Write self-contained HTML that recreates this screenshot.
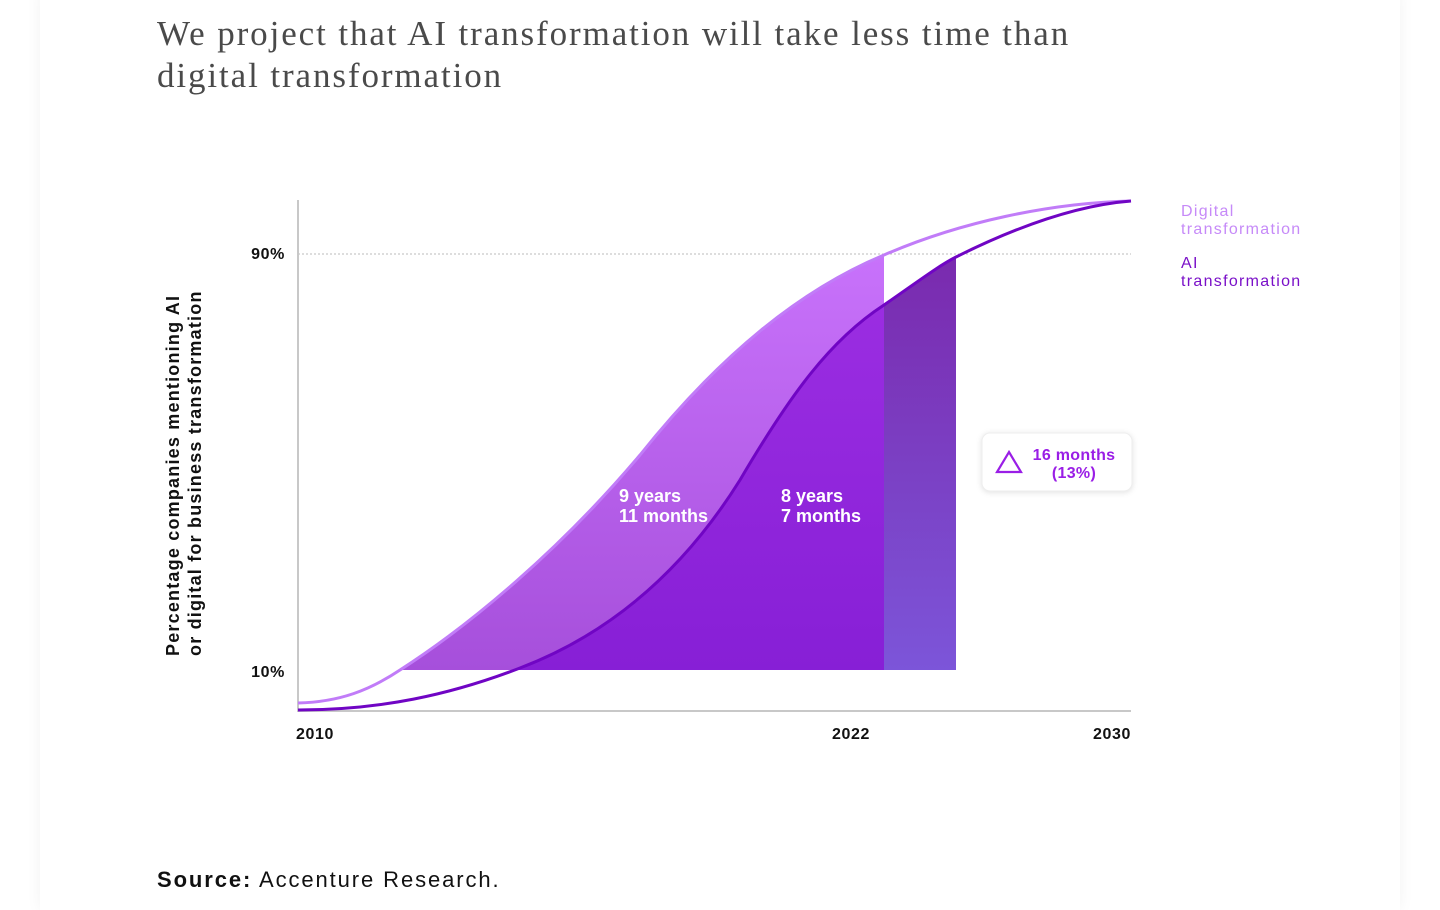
<!DOCTYPE html>
<html><head><meta charset="utf-8"><style>
html,body{margin:0;padding:0;background:#fff;width:1440px;height:900px;overflow:hidden}
.card{position:absolute;left:40px;top:-10px;width:1360px;height:920px;background:#fff;box-shadow:0 0 14px rgba(0,0,0,0.05)}
.title{position:absolute;left:157px;top:13px;font-family:"Liberation Serif",serif;font-size:35px;line-height:42px;color:#4a4a4a;letter-spacing:1.9px}
.src{position:absolute;left:157px;top:867px;font-family:"Liberation Sans",sans-serif;font-size:22px;color:#111;letter-spacing:1.9px}
svg{position:absolute;left:0;top:0}
</style></head><body>
<div class="card"></div>
<div class="title">We project that AI transformation will take less time than<br>digital transformation</div>
<svg width="1440" height="900" font-family="Liberation Sans, sans-serif">
<defs>
<linearGradient id="gd" x1="0" y1="0" x2="0" y2="1"><stop offset="0" stop-color="#c872fb"/><stop offset="1" stop-color="#a64fdb"/></linearGradient>
<linearGradient id="ga" x1="0" y1="0" x2="0" y2="1"><stop offset="0" stop-color="#9d2fe3"/><stop offset="1" stop-color="#871fd6"/></linearGradient>
<linearGradient id="gb" x1="0" y1="0" x2="0" y2="1"><stop offset="0" stop-color="#7a2aae"/><stop offset="1" stop-color="#7c55d9"/></linearGradient>
<clipPath id="cr"><rect x="884" y="200" width="80" height="480"/></clipPath>
</defs>
<line x1="298" y1="254" x2="1131" y2="254" stroke="#bbb" stroke-width="1" stroke-dasharray="2,2"/>
<path d="M400,670 C470,625 560,550 640,455 C720,355 800,290 884,255 L884,670 Z" fill="url(#gd)"/>
<path d="M515,670 C620,630 690,560 740,480 C790,395 830,340 884,305 C920,280 940,265 956,257 L956,670 Z" fill="url(#ga)"/>
<path d="M515,670 C620,630 690,560 740,480 C790,395 830,340 884,305 C920,280 940,265 956,257 L956,670 Z" fill="url(#gb)" clip-path="url(#cr)"/>
<line x1="298" y1="200" x2="298" y2="712" stroke="#c8c8c8" stroke-width="2"/>
<line x1="298" y1="711" x2="1131" y2="711" stroke="#c8c8c8" stroke-width="2"/>
<path d="M298,703 C340,702 370,690 400,670 C470,625 560,550 640,455 C720,355 800,290 884,255 C960,222 1050,203 1131,201" fill="none" stroke="#c17cf8" stroke-width="3"/>
<path d="M298,710 C380,710 450,695 520,668 C620,630 690,560 740,480 C790,395 830,340 884,305 C920,280 940,265 956,257 C1020,225 1080,205 1131,201" fill="none" stroke="#7005c4" stroke-width="3"/>
<g font-weight="bold" font-size="16" fill="#111" letter-spacing="0.6">
<text x="285" y="259" text-anchor="end">90%</text>
<text x="285" y="677" text-anchor="end">10%</text>
<text x="296" y="739">2010</text>
<text x="832" y="739">2022</text>
<text x="1131" y="739" text-anchor="end">2030</text>
</g>
<g font-weight="bold" font-size="18" fill="#111" letter-spacing="1.2" transform="translate(179,656) rotate(-90)">
<text x="0" y="0">Percentage companies mentioning AI</text>
<text x="0" y="22">or digital for business transformation</text>
</g>
<g font-weight="bold" font-size="18" fill="#fff" letter-spacing="0">
<text x="619" y="502">9 years</text><text x="619" y="522">11 months</text>
<text x="781" y="502">8 years</text><text x="781" y="522">7 months</text>
</g>
<rect x="982" y="433" width="150" height="58" rx="8" fill="#fff" stroke="#eee" stroke-width="1" style="filter:drop-shadow(0 1px 3px rgba(0,0,0,0.12))"/>
<path d="M1009,452 L1021,472 L997,472 Z" fill="none" stroke="#9a1ee6" stroke-width="2.2"/>
<g font-weight="bold" font-size="16" fill="#9a1ee6" text-anchor="middle" letter-spacing="0.3">
<text x="1074" y="460">16 months</text><text x="1074" y="478">(13%)</text>
</g>
<g font-size="16" letter-spacing="1.3">
<text x="1181" y="216" fill="#c68af8">Digital</text><text x="1181" y="234" fill="#c68af8">transformation</text>
<text x="1181" y="268" fill="#7a10c8">AI</text><text x="1181" y="286" fill="#7a10c8">transformation</text>
</g>
</svg>
<div class="src"><b>Source:</b> Accenture Research.</div>
</body></html>
